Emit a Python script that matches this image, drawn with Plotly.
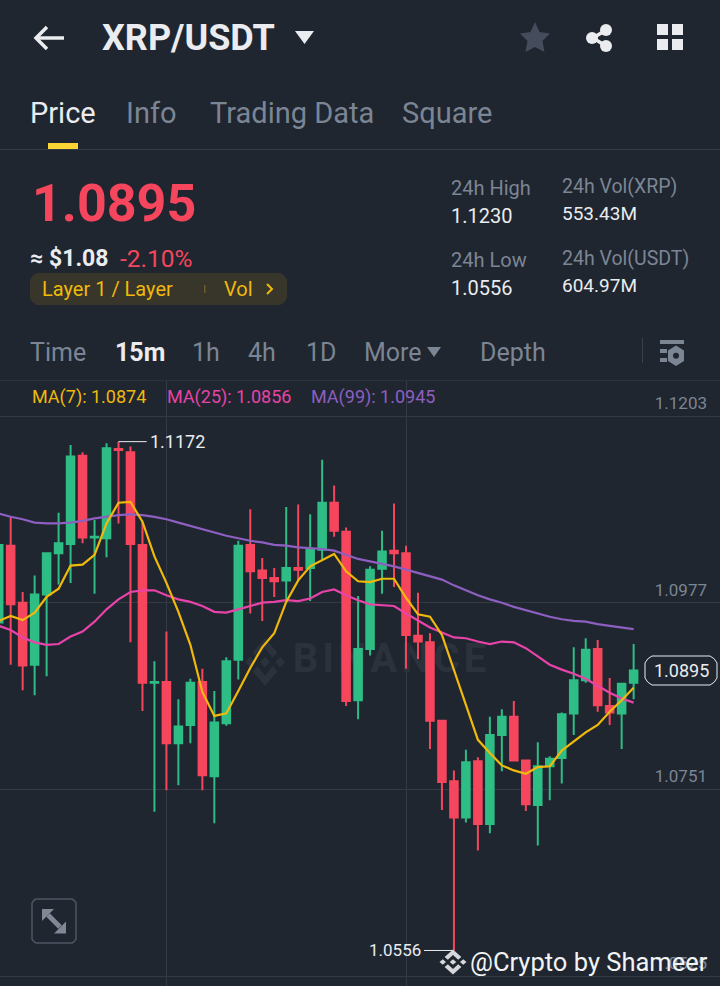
import plotly.graph_objects as go

W = 720
H = 986

# Candles (left to right)
opens = [1.0953, 1.1046, 1.0977, 1.0902, 1.0987, 1.1037, 1.1048, 1.1155, 1.1056, 1.1055, 1.1163, 1.1159, 1.1047, 1.0880,
         1.0881, 1.0807, 1.0829, 1.0881, 1.0767, 1.0831, 1.0908, 1.1047, 1.1016, 1.1007, 1.1004, 1.1019, 1.1019, 1.1041,
         1.1098, 1.1063, 1.0859, 1.0921, 1.1018, 1.1040, 1.1037, 1.0937, 1.0929, 1.0834, 1.0761, 1.0717, 1.0785, 1.0709,
         1.0817, 1.0839, 1.0786, 1.0732, 1.0779, 1.0789, 1.0843, 1.0883, 1.0921, 1.0852, 1.0843, 1.0880]
highs = [1.1047, 1.1082, 1.0990, 1.1010, 1.1037, 1.1086, 1.1168, 1.1159, 1.1077, 1.1170, 1.1172, 1.1166, 1.1075, 1.0906,
         1.0942, 1.0860, 1.0885, 1.0897, 1.0870, 1.0911, 1.1052, 1.1090, 1.1031, 1.1019, 1.1093, 1.1096, 1.1084, 1.1150,
         1.1119, 1.1068, 1.0985, 1.1021, 1.1064, 1.1097, 1.1046, 1.0989, 1.0940, 1.0835, 1.0774, 1.0799, 1.0790, 1.0839,
         1.0848, 1.0858, 1.0787, 1.0808, 1.0791, 1.0844, 1.0923, 1.0934, 1.0932, 1.0886, 1.0880, 1.0927]
lows = [1.0953, 1.0902, 1.0871, 1.0865, 1.0888, 1.0999, 1.1001, 1.1049, 1.0988, 1.1032, 1.1073, 1.0929, 1.0846, 1.0724,
        1.0750, 1.0756, 1.0807, 1.0750, 1.0710, 1.0828, 1.0884, 1.0964, 1.0955, 1.0984, 1.0980, 1.1004, 1.0979, 1.1029,
        1.1057, 1.0852, 1.0836, 1.0913, 1.0988, 1.0996, 1.0897, 1.0909, 1.0800, 1.0726, 1.0556, 1.0711, 1.0677, 1.0698,
        1.0773, 1.0785, 1.0725, 1.0683, 1.0738, 1.0758, 1.0817, 1.0880, 1.0845, 1.0829, 1.0800, 1.0860]
closes = [1.1047, 1.0975, 1.0901, 1.0987, 1.1037, 1.1049, 1.1154, 1.1056, 1.1057, 1.1164, 1.1162, 1.1048, 1.0880, 1.0881,
          1.0807, 1.0827, 1.0880, 1.0768, 1.0832, 1.0906, 1.1046, 1.1015, 1.1007, 1.1003, 1.1019, 1.1017, 1.1041, 1.1098,
          1.1064, 1.0858, 1.0921, 1.1017, 1.1039, 1.1037, 1.0938, 1.0930, 1.0834, 1.0760, 1.0717, 1.0784, 1.0709, 1.0817,
          1.0839, 1.0786, 1.0733, 1.0779, 1.0788, 1.0842, 1.0883, 1.0920, 1.0853, 1.0844, 1.0879, 1.0895]

ma7 = [1.0955, 1.0961, 1.0956, 1.0965, 1.0984, 1.0994, 1.1022, 1.1023, 1.1035, 1.1073, 1.1098, 1.1099, 1.1075, 1.1033,
       1.1001, 1.0966, 1.0926, 1.0869, 1.0840, 1.0843, 1.0870, 1.0898, 1.0923, 1.0940, 1.0978, 1.1004, 1.1021, 1.1028,
       1.1036, 1.1015, 1.1003, 1.1002, 1.1006, 1.1006, 1.0983, 1.0963, 1.0960, 1.0938, 1.0895, 1.0854, 1.0811, 1.0795,
       1.0780, 1.0774, 1.0770, 1.0778, 1.0779, 1.0798, 1.0809, 1.0820, 1.0829, 1.0845, 1.0859, 1.0874]
ma25 = [1.0949, 1.0944, 1.0935, 1.0929, 1.0926, 1.0927, 1.0936, 1.0942, 1.0954, 1.0969, 1.0981, 1.0990, 1.0992, 1.0992,
        1.0986, 1.0981, 1.0978, 1.0973, 1.0966, 1.0965, 1.0969, 1.0973, 1.0977, 1.0978, 1.0980, 1.0979, 1.0982, 1.0990,
        1.0993, 1.0986, 1.0980, 1.0975, 1.0974, 1.0973, 1.0964, 1.0955, 1.0947, 1.0941, 1.0935, 1.0934, 1.0930, 1.0927,
        1.0930, 1.0929, 1.0922, 1.0912, 1.0902, 1.0896, 1.0891, 1.0885, 1.0876, 1.0868, 1.0861, 1.0856]
ma99 = [1.1085, 1.1081, 1.1078, 1.1074, 1.1073, 1.1073, 1.1074, 1.1076, 1.1079, 1.1081, 1.1083, 1.1084, 1.1083, 1.1081,
        1.1078, 1.1074, 1.1070, 1.1066, 1.1062, 1.1058, 1.1055, 1.1052, 1.1050, 1.1047, 1.1046, 1.1044, 1.1043, 1.1042,
        1.1040, 1.1035, 1.1030, 1.1027, 1.1024, 1.1021, 1.1017, 1.1013, 1.1009, 1.1005, 1.0998, 1.0992, 1.0986, 1.0981,
        1.0977, 1.0972, 1.0968, 1.0964, 1.0960, 1.0957, 1.0955, 1.0954, 1.0951, 1.0949, 1.0947, 1.0945]

candle_idx = list(range(len(opens)))
y_ticks = [1.1203, 1.0977, 1.0751, 1.0525]
y_tick_text = ["1.1203", "1.0977", "1.0751", "1.0525"]
x_grid = [14, 34]

BG = "#1f2630"
RED = "#f6465d"
GREEN = "#2ebd85"
YELLOW = "#f0b90b"
PINK = "#e843a8"
PURPLE = "#8d5fc0"
GRAY = "#7c8594"
WHITE = "#eaecef"
GRID = "#333a45"
MARK = "#2b323c"
FONT = "Roboto"


def px(x):
    return x / W


def py(y):
    return 1 - y / H


shapes = []
annots = []


def text(x, y, s, size, color=GRAY, anchor="left", bold=False):
    annots.append(dict(xref="paper", yref="paper", x=px(x), y=py(y), text=f"<b>{s}</b>" if bold else s,
                       showarrow=False, xanchor=anchor, yanchor="middle", borderpad=0, borderwidth=0,
                       font=dict(family=FONT, size=size, color=color)))


def path(points, fill=None, line=None, width=0, close=True, layer="above"):
    d = "M " + " L ".join(f"{px(a)} {py(b)}" for a, b in points) + (" Z" if close else "")
    shapes.append(dict(type="path", xref="paper", yref="paper", path=d, fillcolor=fill or "rgba(0,0,0,0)",
                       line=dict(color=line or "rgba(0,0,0,0)", width=width), layer=layer))


def rect(x0, y0, x1, y1, fill, line=None, width=0):
    shapes.append(dict(type="rect", xref="paper", yref="paper", x0=px(x0), x1=px(x1), y0=py(y1), y1=py(y0),
                       fillcolor=fill, line=dict(color=line or "rgba(0,0,0,0)", width=width), layer="above"))


def round_rect(x0, y0, x1, y1, r, fill, line=None, width=0):
    c = 0.3 * r
    d = (f"M {px(x0 + r)} {py(y0)} L {px(x1 - r)} {py(y0)} Q {px(x1 - c)} {py(y0 + c)} {px(x1)} {py(y0 + r)} "
         f"L {px(x1)} {py(y1 - r)} Q {px(x1 - c)} {py(y1 - c)} {px(x1 - r)} {py(y1)} "
         f"L {px(x0 + r)} {py(y1)} Q {px(x0 + c)} {py(y1 - c)} {px(x0)} {py(y1 - r)} "
         f"L {px(x0)} {py(y0 + r)} Q {px(x0 + c)} {py(y0 + c)} {px(x0 + r)} {py(y0)} Z")
    shapes.append(dict(type="path", xref="paper", yref="paper", path=d, fillcolor=fill,
                       line=dict(color=line or "rgba(0,0,0,0)", width=width), layer="above"))


def circle(cx, cy, r, fill):
    shapes.append(dict(type="circle", xref="paper", yref="paper", x0=px(cx - r), x1=px(cx + r),
                       y0=py(cy + r), y1=py(cy - r), fillcolor=fill, line=dict(width=0), layer="above"))


def binance_logo(cx, cy, ex, ey, color, layer="above"):
    # three small diamonds and the two chevrons, ex/ey are half width and half height
    for x, sx in [(cx, 1), (cx - 0.76 * ex, 1), (cx + 0.76 * ex, 1)]:
        path([(x, cy - 0.22 * ey), (x + 0.24 * ex, cy), (x, cy + 0.22 * ey), (x - 0.24 * ex, cy)], fill=color,
             layer=layer)
    for sgn in (-1, 1):
        path([(cx, cy + sgn * ey), (cx + 0.62 * ex, cy + sgn * 0.4 * ey), (cx + 0.38 * ex, cy + sgn * 0.18 * ey),
              (cx, cy + sgn * 0.56 * ey), (cx - 0.38 * ex, cy + sgn * 0.18 * ey),
              (cx - 0.62 * ex, cy + sgn * 0.4 * ey)], fill=color, layer=layer)


# header
path([(36, 38), (64, 38)], line=WHITE, width=3.5, close=False)
path([(47, 27), (36, 38), (47, 49)], line=WHITE, width=3.5, close=False)
text(102, 38, "XRP/USDT", 36, WHITE, bold=True)
path([(295, 31), (314, 31), (304.5, 44)], fill=WHITE)
path([(535, 22), (539.5, 32), (550, 33.5), (542.5, 41), (544.5, 52), (535, 47), (525.5, 52), (527.5, 41), (520, 33.5),
      (530.5, 32)], fill="#454d5c")
path([(593, 38), (606, 30)], line=WHITE, width=3.5, close=False)
path([(593, 38), (606, 46)], line=WHITE, width=3.5, close=False)
circle(592, 38, 6, WHITE)
circle(606, 30, 6, WHITE)
circle(606, 46, 6, WHITE)
for x0, y0 in [(657, 24), (672, 24), (657, 39), (672, 39)]:
    rect(x0, y0, x0 + 11, y0 + 11, WHITE)

text(30, 113, "Price", 29, WHITE)
text(126, 113, "Info", 29)
text(210, 113, "Trading Data", 29)
text(402, 113, "Square", 29)
rect(0, 149, 720, 150, "#333a45")
rect(48, 143, 78, 149, "#fcd535")

# price block
text(32, 204, "1.0895", 52, RED, bold=True)
text(30, 258, "≈ $1.08", 23, WHITE, bold=True)
text(120, 258, "-2.10%", 24.5, RED)
round_rect(30, 273, 287, 305, 7, "#38352b")
text(42, 289, "Layer 1 / Layer", 20, YELLOW)
rect(204, 285, 205.5, 293, "#6b5c20")
text(224, 289, "Vol", 20, YELLOW)
path([(267, 284), (272, 289), (267, 294)], line=YELLOW, width=2, close=False)

text(451, 188, "24h High", 20)
text(451, 216, "1.1230", 20, WHITE)
text(562, 186, "24h Vol(XRP)", 19.5)
text(562, 214, "553.43M", 19, WHITE)
text(451, 260, "24h Low", 20)
text(451, 288, "1.0556", 20, WHITE)
text(562, 258, "24h Vol(USDT)", 19.5)
text(562, 286, "604.97M", 19, WHITE)

# interval row
text(30, 352, "Time", 25)
text(115, 352, "15m", 25, WHITE, bold=True)
text(192, 352, "1h", 25)
text(248, 352, "4h", 25)
text(306, 352, "1D", 25)
text(364, 352, "More", 25)
path([(427, 347), (441, 347), (434, 357)], fill=GRAY)
text(480, 352, "Depth", 25)
rect(642, 338, 643, 363, "#3a414d")
rect(660, 340, 684, 344, GRAY)
rect(660, 349, 667, 353, GRAY)
rect(660, 358, 667, 362, GRAY)
path([(676, 345.5), (684, 350.5), (684, 361), (676, 366), (668, 361), (668, 350.5)], fill=GRAY)
circle(676, 355.7, 3, BG)
rect(0, 380, 720, 381, "#2c333e")

# moving average legend
text(32, 397, f"MA(7): {ma7[-1]:.4f}", 18, YELLOW)
text(167, 397, f"MA(25): {ma25[-1]:.4f}", 18, PINK)
text(311, 397, f"MA(99): {ma99[-1]:.4f}", 18, PURPLE)

# high and low callouts
hi_i = highs.index(max(highs))
lo_i = lows.index(min(lows))
shapes.append(dict(type="line", xref="x", yref="y", x0=hi_i, x1=hi_i + 2.35, y0=highs[hi_i], y1=highs[hi_i],
                   line=dict(color=WHITE, width=1), layer="above"))
shapes.append(dict(type="line", xref="x", yref="y", x0=lo_i - 2.5, x1=lo_i, y0=lows[lo_i], y1=lows[lo_i],
                   line=dict(color=WHITE, width=1), layer="above"))
annots.append(dict(xref="x", yref="y", x=hi_i + 2.45, y=highs[hi_i], text=f"{highs[hi_i]:.4f}", showarrow=False,
                   xanchor="left", yanchor="middle", font=dict(family=FONT, size=18, color=WHITE)))
annots.append(dict(xref="x", yref="y", x=lo_i - 2.6, y=lows[lo_i], text=f"{lows[lo_i]:.4f}", showarrow=False,
                   xanchor="right", yanchor="middle", font=dict(family=FONT, size=17, color=WHITE)))

# last price pill
round_rect(645, 656, 717, 685, 7, BG, line=WHITE, width=1)
annots.append(dict(xref="paper", yref="y", x=px(681), y=closes[-1], text=f"{closes[-1]:.4f}", showarrow=False,
                   xanchor="center", yanchor="middle", font=dict(family=FONT, size=18, color=WHITE)))

# expand button
round_rect(32, 899, 76, 943, 4, "rgba(0,0,0,0)", line="#4f5663", width=1.5)
path([(48, 915), (60, 927)], line="#808896", width=5, close=False)
path([(42, 909), (54, 909), (42, 921)], fill="#808896")
path([(66, 933.5), (66, 921.5), (54, 933.5)], fill="#808896")

# author watermark
binance_logo(453, 962, 13.5, 12.5, "#d5d7da")
text(470, 962, "@Crypto by Shameer", 25.5, "#f2f3f4")

# faint exchange mark behind the candles
binance_logo(265, 662, 20, 24, MARK, layer="below")

fig = go.Figure()
# the name sits on a base axis pair so the candles can overlay it
fig.add_trace(go.Scatter(
    x=[0.541], y=[0.535], mode="text", text=["<b>B\u200aI\u200aN\u200aA\u200aN\u200aC\u200aE</b>"],
    textposition="middle center", textfont=dict(family=FONT, size=40, color=MARK),
    xaxis="x2", yaxis="y2", showlegend=False, hoverinfo="skip",
))
fig.add_trace(go.Candlestick(
    x=candle_idx, open=opens, high=highs, low=lows, close=closes,
    increasing=dict(line=dict(color=GREEN, width=2), fillcolor=GREEN),
    decreasing=dict(line=dict(color=RED, width=2), fillcolor=RED),
    whiskerwidth=0, showlegend=False,
))
for vals, color in [(ma99, PURPLE), (ma25, PINK), (ma7, YELLOW)]:
    fig.add_trace(go.Scatter(x=candle_idx, y=vals, mode="lines", line=dict(color=color, width=2.2), showlegend=False))

fig.update_layout(
    width=W, height=H,
    margin=dict(l=0, r=0, t=0, b=0),
    paper_bgcolor=BG, plot_bgcolor="rgba(0,0,0,0)",
    boxgap=0.1,
    shapes=shapes, annotations=annots,
    xaxis=dict(range=[0.1085, 60.21], domain=[0, 1], rangeslider=dict(visible=False), tickvals=x_grid,
               showticklabels=False, showgrid=True, gridcolor=GRID, gridwidth=1, zeroline=False, ticks="",
               overlaying="x2"),
    yaxis=dict(range=[1.0513, 1.12454], domain=[0, 605 / H], side="right", tickvals=y_ticks, ticktext=y_tick_text,
               ticklabelposition="inside", ticklabelshift=-13, ticklabelstandoff=10,
               tickfont=dict(family=FONT, size=17, color=GRAY),
               showgrid=True, gridcolor=GRID, gridwidth=1, zeroline=False, ticks="", overlaying="y2"),
    xaxis2=dict(range=[0, 1], domain=[0, 1], visible=False),
    yaxis2=dict(range=[0, 1], domain=[0, 605 / H], visible=False),
    font=dict(family=FONT),
)

# the page body has a default margin, the chart must sit flush with the window
fig.write_html("out.html", config=dict(displayModeBar=False),
               post_script="document.body.style.margin='0';document.documentElement.style.background='#1f2630';")
